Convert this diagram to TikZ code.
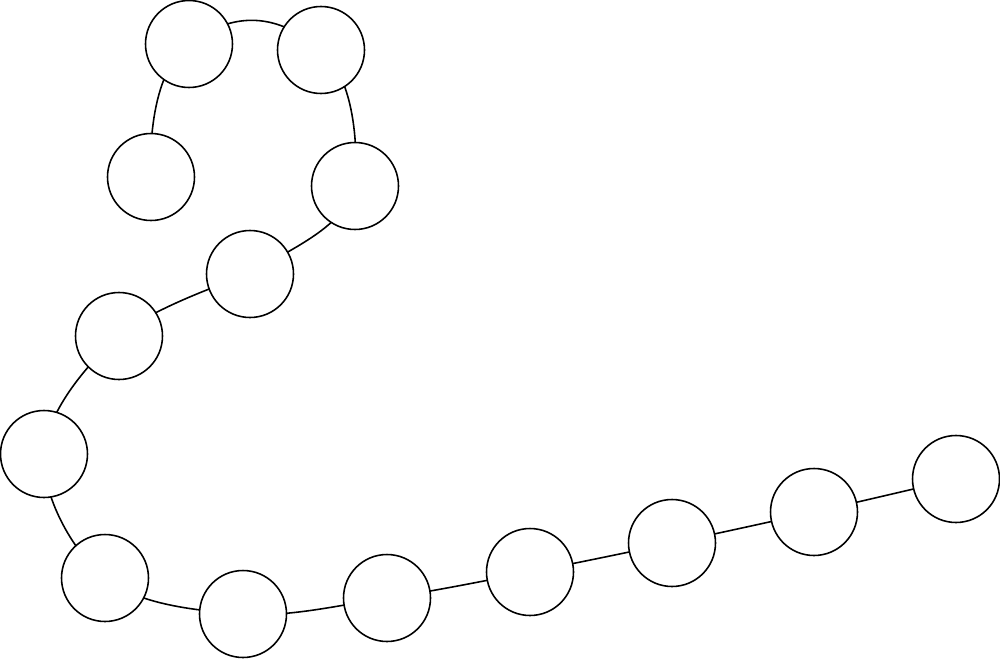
\documentclass[tikz,border=0pt]{standalone}
\usetikzlibrary{backgrounds}
\begin{document}
\begin{tikzpicture}[x=0.02cm,y=-0.02cm,
  bead/.style={circle,draw=black,fill=white,line width=0.9pt,minimum size=1.74cm,inner sep=0pt},
  thread/.style={draw=black,line width=0.9pt}]
\useasboundingbox (0,0) rectangle (1000,659);
\node[bead] (n3) at (151,177) {};
\node[bead] (n1) at (189,44) {};
\node[bead] (n2) at (321,50) {};
\node[bead] (n4) at (355,186) {};
\node[bead] (n5) at (250,274) {};
\node[bead] (n6) at (119,336) {};
\node[bead] (n7) at (44,454) {};
\node[bead] (n8) at (105,578) {};
\node[bead] (n9) at (243,614) {};
\node[bead] (n10) at (387,598) {};
\node[bead] (n11) at (530,572) {};
\node[bead] (n12) at (672,543) {};
\node[bead] (n13) at (814,512) {};
\node[bead] (n14) at (956,479) {};
\begin{scope}[on background layer]
\draw[thread] plot[smooth,tension=0.95] coordinates {(n3.center) (n1.center) (n2.center) (n4.center)};
\draw[thread] (n4.center) .. controls +(-12,42) and +(45,-28) .. (n5.center);
\draw[thread] plot[smooth,tension=0.6] coordinates {(n5.center) (n6.center) (n7.center) (n8.center) (n9.center) (n10.center) (n11.center) (n12.center) (n13.center) (n14.center)};
\end{scope}
\end{tikzpicture}
\end{document}
